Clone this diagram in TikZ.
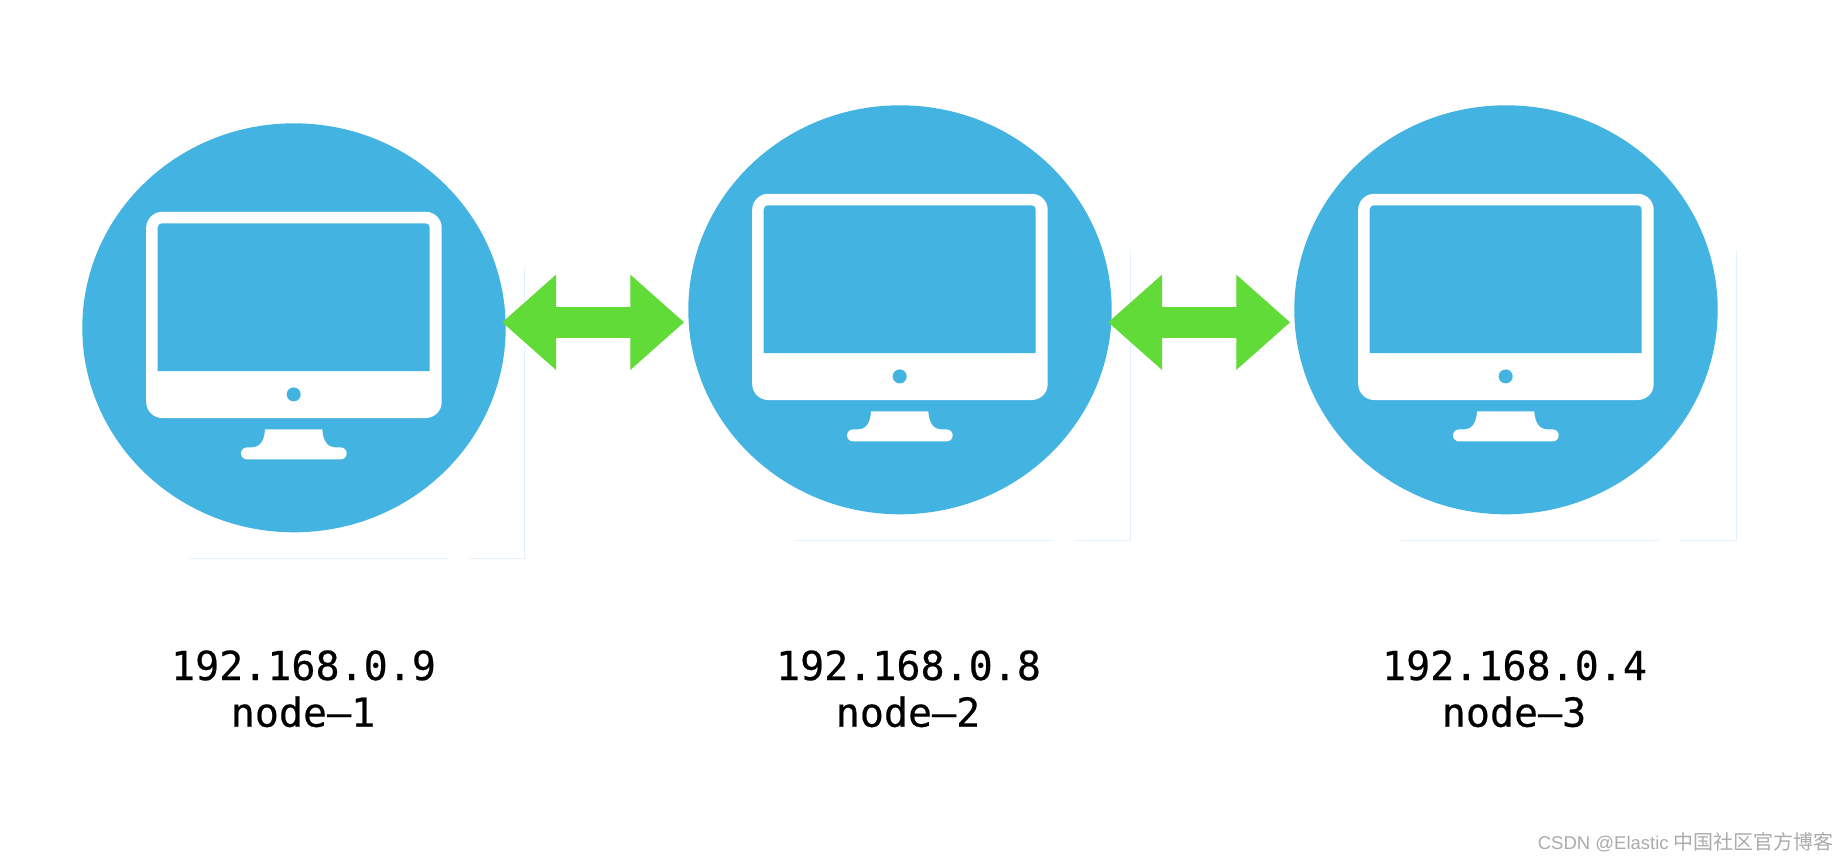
\documentclass[tikz,border=0pt]{standalone}
\usepackage{fontspec}
\setmainfont{Liberation Sans}
\newfontfamily\labelmono[FakeBold=0.5]{DejaVu Sans Mono}
\newfontfamily\cjk{Noto Sans CJK SC}
\usetikzlibrary{shapes.geometric,arrows.meta}
\definecolor{discblue}{HTML}{43B3E2}
\definecolor{linkgreen}{HTML}{61DB37}
\definecolor{faintline}{HTML}{E3F2FC}
\definecolor{markgrey}{HTML}{ABABAB}
\tikzset{
  disc/.style={ellipse,fill=discblue,draw=none,inner sep=0pt,minimum width=423.4pt,minimum height=409pt},
  iplabel/.style={anchor=base,inner sep=0pt,font=\labelmono\fontsize{40}{46}\selectfont,text=black},
  link/.style={draw=linkgreen,line width=30.7pt,
    {Triangle[length=53.7pt,width=95pt,line width=1.2pt,fill=linkgreen]}-{Triangle[length=53.7pt,width=95pt,line width=1.2pt,fill=linkgreen]}},
  computer/.pic={
    \draw[faintline,line width=1pt] (230.6,-60) -- (230.6,230.6) -- (175,230.6);
    \draw[faintline,line width=1pt] (153,230.6) -- (-105,230.6);
    \fill[white,rounded corners=16pt] (-147.8,-116) rectangle (147.7,90.2);
    \fill[discblue] (-136.3,43.2) -- (-136.3,-100.4) arc[start angle=180,end angle=90,radius=4pt]
      -- (131.7,-104.4) arc[start angle=90,end angle=0,radius=4pt] -- (135.7,43.2) -- cycle;
    \fill[discblue] (-0.3,66.6) circle[radius=7pt];
    \fill[white] (-29,101.6) -- (28.3,101.6)
      .. controls (29,113) and (33,119.6) .. (42,119.6)
      -- (46.7,119.6) arc[start angle=90,end angle=-90,radius=6pt]
      -- (-47,131.6) arc[start angle=270,end angle=90,radius=6pt]
      -- (-42.6,119.6) .. controls (-33.6,119.6) and (-29.6,113) .. (-29,101.6) -- cycle;
  }
}
\begin{document}
\begin{tikzpicture}[x=1pt,y=-1pt]
\useasboundingbox[fill=white] (0,0) rectangle (1848,860);
\node[disc] (n1) at (294,327.8) {};
\node[disc] (n2) at (900,309.8) {};
\node[disc] (n3) at (1506,309.8) {};
\pic at (n1.center) {computer};
\pic at (n2.center) {computer};
\pic at (n3.center) {computer};
\coordinate (a1l) at (502.3,322.3);
\coordinate (a1r) at (684,322.3);
\coordinate (a2l) at (1108.3,322.3);
\coordinate (a2r) at (1290,322.3);
\draw[link] (a1l) -- (a1r);
\draw[link] (a2l) -- (a2r);
\node[iplabel] (ip1) at (303.5,680) {192.168.0.9};
\node[iplabel] (nm1) at (303,726.7) {node–1};
\node[iplabel] (ip2) at (908.5,680) {192.168.0.8};
\node[iplabel] (nm2) at (908,726.7) {node–2};
\node[iplabel] (ip3) at (1514.5,680) {192.168.0.4};
\node[iplabel] (nm3) at (1514,726.7) {node–3};
\node[anchor=base east,inner sep=0pt,text=markgrey,font=\fontsize{18.5}{22}\selectfont] (mark) at (1834,849) {CSDN @Elastic {\cjk\fontsize{20}{22}\selectfont 中国社区官方博客}};
\end{tikzpicture}
\end{document}
